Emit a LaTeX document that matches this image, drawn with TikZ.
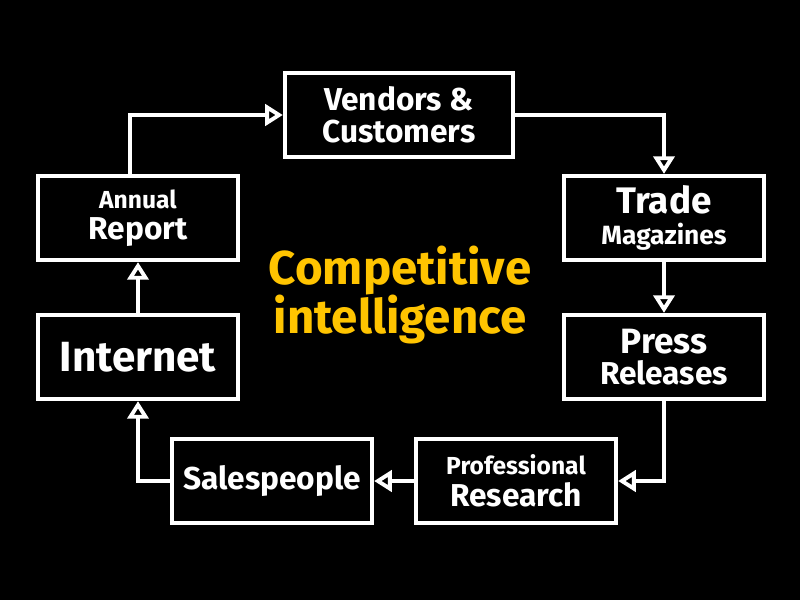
\documentclass[tikz,border=0pt]{standalone}
\usepackage{fontspec}
\setmainfont{Fira Sans}
\usetikzlibrary{arrows.meta}
\begin{document}
\begin{tikzpicture}[x=0.01cm,y=-0.01cm,
  box/.style={draw=white,line width=1.2pt,minimum width=2cm,minimum height=0.84cm,text=white,align=center,font=\bfseries\fontsize{9}{9}\selectfont,inner sep=0pt},
  con/.style={draw=white,line width=1.1pt,-{Triangle[open,length=5pt,width=6pt]}}]
\fill[black] (0,0) rectangle (800,600);
\useasboundingbox (0,0) rectangle (800,600);
\node[box,minimum width=2.28cm] (v) at (399,115) {Vendors \&\\Customers};
\node[box] (t) at (664,218) {{\fontsize{10.5}{10}\selectfont Trade}\\{\fontsize{7.5}{9}\selectfont Magazines}};
\node[box] (p) at (664,357) {{\fontsize{10}{9}\selectfont Press}\\Releases};
\node[box] (r) at (516,481) {{\fontsize{7}{8}\selectfont Professional}\\Research};
\node[box] (s) at (272,481) {Salespeople};
\node[box,font=\bfseries\fontsize{12}{12}\selectfont] (i) at (138,357) {Internet};
\node[box] (a) at (138,218) {{\fontsize{7}{8}\selectfont Annual}\\Report};
\node[text={rgb,255:red,255;green,196;blue,0},align=center,font=\bfseries\fontsize{13.5}{14}\selectfont] (c) at (400,295) {Competitive\\intelligence};
\draw[con] (a.north -| 130,0) |- (v.west);
\draw[con] (v.east) -| (t.north);
\draw[con] (t.south) -- (p.north);
\draw[con] (p.south) |- (r.east);
\draw[con] (r.west) -- (s.east);
\draw[con] (s.west) -| (i.south);
\draw[con] (i.north) -- (a.south);
\end{tikzpicture}
\end{document}
